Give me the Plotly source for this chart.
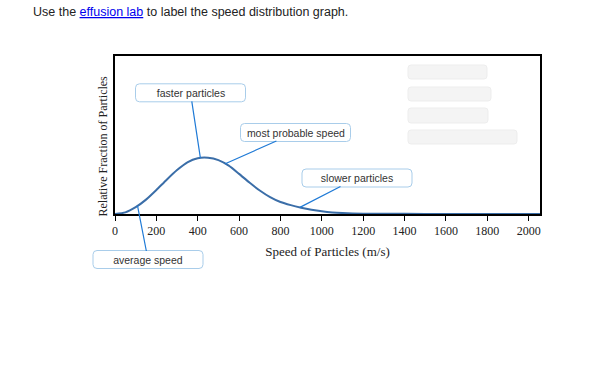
import numpy as np
import plotly.graph_objects as go

# ---- data ----
speeds = [0, 50, 100, 150, 200, 250, 300, 350, 400, 450, 500, 550, 600, 650, 700,
          750, 800, 850, 900, 950, 1000, 1050, 1100, 1200, 1400, 1600, 1800, 2055]
rel_fraction = [0.0, 0.010, 0.043, 0.091, 0.152, 0.217, 0.278, 0.327, 0.353, 0.356,
                0.341, 0.306, 0.254, 0.199, 0.149, 0.107, 0.076, 0.056, 0.040, 0.027,
                0.017, 0.010, 0.006, 0.002, 0.001, 0.0, 0.0, 0.0]
x_ticks = [0, 200, 400, 600, 800, 1000, 1200, 1400, 1600, 1800, 2000]

label_texts = ["faster particles", "most probable speed", "slower particles", "average speed"]
label_speeds = [413, 533, 894, 109]          # where each label's line meets the curve

# ---- layout constants (pixels) ----
W, H = 607, 372
L, R, T, B = 115, 540, 56, 214
XMAX, YMAX = 2055, 1.0

def dx(p):  # pixel -> x data
    return (p - L) / (R - L) * XMAX

def dy(p):  # pixel -> y data
    return (B - p) / (B - T) * YMAX

def px_(p):
    return (p - L) / (R - L)

def py_(p):
    return (B - p) / (B - T)

def rounded_rect(x0, y0, x1, y1, r=3):
    X = lambda p: px_(p)
    Y = lambda p: py_(p)
    return (f"M {X(x0+r)},{Y(y0)} L {X(x1-r)},{Y(y0)} Q {X(x1)},{Y(y0)} {X(x1)},{Y(y0+r)} "
            f"L {X(x1)},{Y(y1-r)} Q {X(x1)},{Y(y1)} {X(x1-r)},{Y(y1)} "
            f"L {X(x0+r)},{Y(y1)} Q {X(x0)},{Y(y1)} {X(x0)},{Y(y1-r)} "
            f"L {X(x0)},{Y(y0+r)} Q {X(x0)},{Y(y0)} {X(x0+r)},{Y(y0)} Z")

box_centers = [(190.5, 92.8), (295.5, 132.5), (357, 178), (148, 259.5)]
BOX_W, BOX_H = 110, 18

gray_boxes = [(408, 65, 487, 79), (408, 87, 491, 101), (408, 108, 488, 123), (408, 130, 517, 144)]

fig = go.Figure()
fig.add_trace(go.Scatter(
    x=speeds, y=rel_fraction, mode="lines",
    line=dict(color="#3b6ea8", width=2, shape="spline", smoothing=0.6),
    hoverinfo="skip", showlegend=False, cliponaxis=False,
))

shapes = []
for (x0, y0, x1, y1) in gray_boxes:
    shapes.append(dict(type="path", xref="paper", yref="paper", path=rounded_rect(x0, y0, x1, y1),
                       fillcolor="#f4f4f4", line=dict(color="#ededed", width=1), layer="above"))

annotations = []
for text, v, (cx, cy) in zip(label_texts, label_speeds, box_centers):
    yv = float(np.interp(v, speeds, rel_fraction))
    shapes.append(dict(type="path", xref="paper", yref="paper",
                       path=rounded_rect(cx - BOX_W / 2, cy - BOX_H / 2, cx + BOX_W / 2, cy + BOX_H / 2, r=4),
                       fillcolor="white", line=dict(color="#a9cdea", width=1), layer="above"))
    annotations.append(dict(
        x=v, y=yv, xref="x", yref="y", ax=dx(cx), ay=dy(cy), axref="x", ayref="y",
        text=text, showarrow=True, arrowhead=0, arrowwidth=1.2, arrowcolor="#1f7ad6",
        standoff=0, startstandoff=0,
        font=dict(family="Liberation Sans, Arial", size=10.5, color="#333333"),
        bgcolor="rgba(0,0,0,0)", bordercolor="rgba(0,0,0,0)", borderwidth=1, borderpad=2,
        width=BOX_W - 6, height=BOX_H - 6, align="center",
    ))

annotations.append(dict(
    xref="paper", yref="paper", x=px_(31), y=py_(11.5), xanchor="left", yanchor="middle",
    showarrow=False,
    text='Use the <a href="#"><span style="color:#0000ee;text-decoration:underline">effusion lab</span></a>'
         ' to label the speed distribution graph.',
    font=dict(family="Liberation Sans, Arial", size=12.5, color="#222222"),
))

# y-axis title (sits a little below the plot-area centre in the reference)
annotations.append(dict(
    xref="paper", yref="paper", x=px_(102), y=py_(146.5), xanchor="center", yanchor="middle",
    showarrow=False, textangle=-90, text="Relative Fraction of Particles",
    font=dict(family="Liberation Serif, Times New Roman", size=12, color="#222222"),
))

fig.update_layout(
    width=W, height=H,
    margin=dict(l=L, r=W - R, t=T, b=H - B, pad=0),
    paper_bgcolor="white", plot_bgcolor="white",
    shapes=shapes, annotations=annotations,
    xaxis=dict(range=[0, XMAX], tickvals=x_ticks, ticktext=[str(t) for t in x_ticks],
               ticks="outside", ticklen=5, tickwidth=1, tickcolor="black",
               showline=True, linecolor="black", linewidth=1.5, mirror=True,
               showgrid=False, zeroline=False,
               tickfont=dict(family="Liberation Serif, Times New Roman", size=12, color="#222222"),
               title=dict(text="Speed of Particles (m/s)", standoff=10,
                          font=dict(family="Liberation Serif, Times New Roman", size=13, color="#222222"))),
    yaxis=dict(range=[0, YMAX], showticklabels=False, ticks="",
               showline=True, linecolor="black", linewidth=1.5, mirror=True,
               showgrid=False, zeroline=False),
)

fig.write_html("out.html", config={"displayModeBar": False},
               post_script="document.body.style.margin='0';")
